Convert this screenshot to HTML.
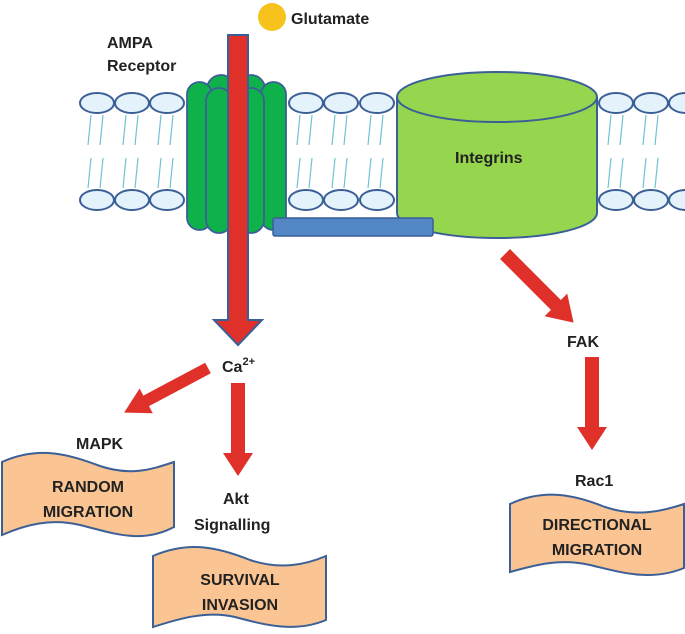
<!DOCTYPE html>
<html><head><meta charset="utf-8"><style>
html,body{margin:0;padding:0;background:#fff;width:685px;height:634px;overflow:hidden}
svg{display:block}
text{font-family:"Liberation Sans",sans-serif;font-weight:bold;fill:#222}
</style></head><body>
<svg width="685" height="634" viewBox="0 0 685 634">
<defs>
<g id="tails" stroke="#6cc3d5" stroke-width="1.2">
<line x1="-6" y1="115" x2="-9" y2="145"/><line x1="6" y1="115" x2="3" y2="145"/>
<line x1="-6" y1="158" x2="-9" y2="188"/><line x1="6" y1="158" x2="3" y2="188"/>
</g>
</defs>
<g>
<use href="#tails" x="97"/><use href="#tails" x="132"/><use href="#tails" x="167"/>
<use href="#tails" x="306"/><use href="#tails" x="341"/><use href="#tails" x="377"/>
<use href="#tails" x="617"/><use href="#tails" x="652"/>
</g>
<g fill="#e4f3fb" stroke="#3b5f97" stroke-width="2">
<ellipse cx="97" cy="103" rx="17" ry="10"/><ellipse cx="132" cy="103" rx="17" ry="10"/><ellipse cx="167" cy="103" rx="17" ry="10"/>
<ellipse cx="97" cy="200" rx="17" ry="10"/><ellipse cx="132" cy="200" rx="17" ry="10"/><ellipse cx="167" cy="200" rx="17" ry="10"/>
<ellipse cx="306" cy="103" rx="17" ry="10"/><ellipse cx="341" cy="103" rx="17" ry="10"/><ellipse cx="377" cy="103" rx="17" ry="10"/>
<ellipse cx="306" cy="200" rx="17" ry="10"/><ellipse cx="341" cy="200" rx="17" ry="10"/><ellipse cx="377" cy="200" rx="17" ry="10"/>
<ellipse cx="616" cy="103" rx="17" ry="10"/><ellipse cx="651" cy="103" rx="17" ry="10"/><ellipse cx="686" cy="103" rx="17" ry="10"/>
<ellipse cx="616" cy="200" rx="17" ry="10"/><ellipse cx="651" cy="200" rx="17" ry="10"/><ellipse cx="686" cy="200" rx="17" ry="10"/>
</g>
<g fill="#0fb24a" stroke="#3b5f97" stroke-width="1.8">
<rect x="207" y="75" width="28" height="155" rx="14"/>
<rect x="237" y="75" width="28" height="155" rx="14"/>
<rect x="187" y="82" width="25" height="148" rx="12.5"/>
<rect x="261" y="82" width="25" height="148" rx="12.5"/>
<rect x="206" y="88" width="26" height="145" rx="13"/>
<rect x="238" y="88" width="26" height="145" rx="13"/>
</g>
<path d="M397 97 L397 213 A100 25 0 0 0 597 213 L597 97" fill="#96d64f" stroke="#3b5f97" stroke-width="2"/>
<ellipse cx="497" cy="97" rx="100" ry="25" fill="#96d64f" stroke="#3b5f97" stroke-width="2"/>
<rect x="273" y="218" width="160" height="18" rx="2" fill="#5386c4" stroke="#3b5f97" stroke-width="1.5"/>
<text x="455" y="163" font-size="16">Integrins</text>
<path d="M228 35 L248 35 L248 320 L262 320 L238 345 L214 320 L228 320 Z" fill="#e0302a" stroke="#3b5f97" stroke-width="2"/>
<circle cx="272" cy="17" r="14" fill="#f8c21c"/>
<text x="291" y="24" font-size="16">Glutamate</text>
<text x="107" y="48" font-size="16">AMPA</text>
<text x="107" y="71" font-size="16">Receptor</text>
<g fill="#e0302a">
<path d="M0 -7 L72 -7 L72 -16 L97 0 L72 16 L72 7 L0 7 Z" transform="translate(505,254) rotate(45)"/>
<path d="M-7 0 L7 0 L7 70 L15 70 L0 93 L-15 70 L-7 70 Z" transform="translate(592,357)"/>
<path d="M-7 0 L7 0 L7 70 L15 70 L0 93 L-15 70 L-7 70 Z" transform="translate(238,383)"/>
<path d="M0 -6 L70 -6 L70 -14 L95 0 L70 14 L70 6 L0 6 Z" transform="translate(208,368) rotate(152)"/>
</g>
<text x="222" y="372" font-size="16">Ca<tspan font-size="11" dy="-7">2+</tspan></text>
<text x="567" y="347" font-size="16">FAK</text>
<text x="575" y="486" font-size="16">Rac1</text>
<text x="76" y="449" font-size="16">MAPK</text>
<text x="223" y="504" font-size="16">Akt</text>
<text x="194" y="530" font-size="16">Signalling</text>
<g fill="#fbc593" stroke="#3b5f97" stroke-width="2">
<path d="M2 462 C40 445 70 455 100 466 C130 476 150 470 174 462 L174 527 C140 545 110 532 80 525 C50 518 25 525 2 535 Z"/>
<path d="M153 556 C190 540 220 548 250 560 C280 570 305 565 326 556 L326 620 C295 633 265 625 235 617 C205 610 175 620 153 627 Z"/>
<path d="M510 504 C545 488 575 495 605 507 C635 517 660 512 684 504 L684 568 C650 582 620 572 590 565 C560 558 535 565 510 572 Z"/>
</g>
<g font-size="16" text-anchor="middle">
<text x="88" y="492">RANDOM</text><text x="88" y="517">MIGRATION</text>
<text x="240" y="585">SURVIVAL</text><text x="240" y="610">INVASION</text>
<text x="597" y="530">DIRECTIONAL</text><text x="597" y="555">MIGRATION</text>
</g>
</svg>
</body></html>
